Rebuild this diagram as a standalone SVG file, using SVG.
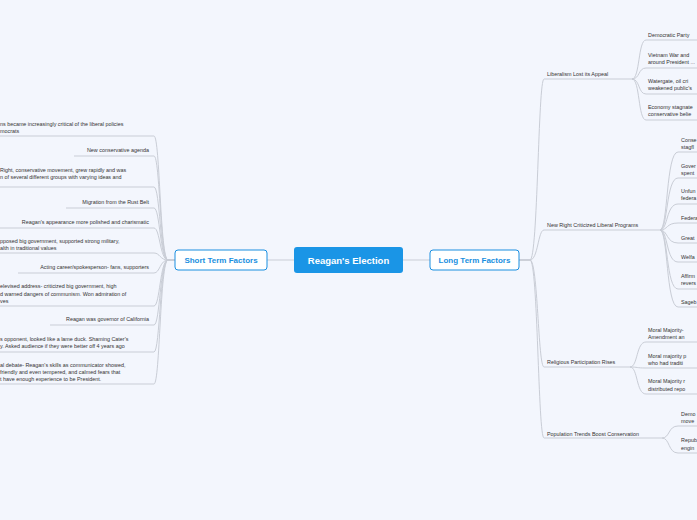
<svg xmlns="http://www.w3.org/2000/svg" width="697" height="520" viewBox="0 0 697 520">
<style>
text{font-family:"Liberation Sans",Arial,sans-serif;font-size:5.4px;fill:#333}
.c path{fill:none;stroke:#c9cdd6;stroke-width:1}
.b rect{fill:#fff;stroke:#1a8fe0;stroke-width:1}
.b text{fill:#1a8fe0;font-weight:bold;font-size:8px;text-anchor:middle}
.e{text-anchor:end}
</style>
<rect width="697" height="520" fill="#f3f6fd"/>
<g class="c">
<path d="M403,260H430M267,260H294"/>
<path d="M175,260H168C160,260 160,136 154,136H0"/>
<path d="M175,260H168C160,260 160,156 154,156H74"/>
<path d="M175,260H168C160,260 160,187 154,187H0"/>
<path d="M175,260H168C160,260 160,208 154,208H66"/>
<path d="M175,260H168C160,260 160,228 154,228H0"/>
<path d="M175,260H168C160,260 160,253 154,253H0"/>
<path d="M175,260H168C160,260 160,273 154,273H18"/>
<path d="M175,260H168C160,260 160,306 154,306H0"/>
<path d="M175,260H168C160,260 160,325 154,325H50"/>
<path d="M175,260H168C160,260 160,352 154,352H0"/>
<path d="M175,260H168C160,260 160,384 154,384H0"/>
<path d="M519,260H530C538,260 538,79 544,79H632"/>
<path d="M519,260H530C538,260 538,230 544,230H660"/>
<path d="M519,260H530C538,260 538,367 544,367H630"/>
<path d="M519,260H530C538,260 538,438 544,438H662"/>
<path d="M632,79C640,79 638,40 646,40H697M632,79C640,79 638,68 646,68H697M632,79C640,79 638,94 646,94H697M632,79C640,79 638,120 646,120H697"/>
<path d="M660,230C668,230 666,152 678,152H697M660,230C668,230 666,178 678,178H697M660,230C668,230 666,204 678,204H697M660,230C668,230 666,223 678,223H697M660,230C668,230 666,243 678,243H697M660,230C668,230 666,262 678,262H697M660,230C668,230 666,289 678,289H697M660,230C668,230 666,307 678,307H697"/>
<path d="M630,367C638,367 636,342 646,342H697M630,367C638,367 636,368 646,368H697M630,367C638,367 636,394 646,394H697"/>
<path d="M662,438C670,438 668,426 678,426H697M662,438C670,438 668,453 678,453H697"/>
</g>
<g id="center"><rect x="294" y="247" width="109" height="26" rx="3" fill="#1a95e6"/><text x="348.5" y="263.5" text-anchor="middle" style="fill:#fff;font-weight:bold;font-size:9.5px">Reagan's Election</text></g>
<g id="short" class="b"><rect x="175" y="250" width="92" height="20" rx="3"/><text x="221" y="263">Short Term Factors</text></g>
<g id="long" class="b"><rect x="430" y="250" width="89" height="20" rx="3"/><text x="474.5" y="263">Long Term Factors</text></g>
<g id="left">
<text x="0" y="126">ns became increasingly critical of the liberal policies</text><text x="0" y="133">mocrats</text>
<text class="e" x="149" y="152">New conservative agenda</text>
<text x="0" y="172">Right, conservative movement, grew rapidly and was</text><text x="0" y="179">n of several different groups with varying ideas and</text>
<text class="e" x="149" y="204">Migration from the Rust Belt</text>
<text class="e" x="149" y="224">Reagan's appearance more polished and charismatic</text>
<text x="0" y="243">pposed big government, supported strong military,</text><text x="0" y="250">alth in traditional values</text>
<text class="e" x="149" y="269">Acting career/spokesperson- fans, supporters</text>
<text x="0" y="288">elevised address- criticized big government, high</text><text x="0" y="296">d warned dangers of communism. Won admiration of</text><text x="0" y="303">ves</text>
<text class="e" x="149" y="321">Reagan was governor of California</text>
<text x="0" y="341">s opponent, looked like a lame duck. Shaming Cater's</text><text x="0" y="348">y. Asked audience if they were better off 4 years ago</text>
<text x="0" y="367">al debate- Reagan's skills as communicator showed,</text><text x="0" y="374">friendly and even tempered, and calmed fears that</text><text x="0" y="381">t have enough experience to be President.</text>
</g>
<g id="right">
<text x="547" y="76">Liberalism Lost its Appeal</text>
<text x="547" y="227">New Right Criticized Liberal Programs</text>
<text x="547" y="364">Religious Participation Rises</text>
<text x="547" y="436">Population Trends Boost Conservation</text>
<text x="648" y="37">Democratic Party</text>
<text x="648" y="57">Vietnam War and</text><text x="648" y="64">around President ...</text>
<text x="648" y="83">Watergate, oil cri</text><text x="648" y="90">weakened public's</text>
<text x="648" y="109">Economy stagnate</text><text x="648" y="116">conservative belie</text>
<text x="681" y="142">Conse</text><text x="681" y="149">stagfl</text>
<text x="681" y="168">Gover</text><text x="681" y="175">spent</text>
<text x="681" y="193">Unfun</text><text x="681" y="200">federa</text>
<text x="681" y="220">Federa</text>
<text x="681" y="240">Great</text>
<text x="681" y="259">Welfa</text>
<text x="681" y="278">Affirm</text><text x="681" y="285">revers</text>
<text x="681" y="304">Sageb</text>
<text x="648" y="332">Moral Majority-</text><text x="648" y="339">Amendment an</text>
<text x="648" y="358">Moral majority p</text><text x="648" y="365">who had traditi</text>
<text x="648" y="383">Moral Majority r</text><text x="648" y="391">distributed repo</text>
<text x="681" y="416">Demo</text><text x="681" y="423">move</text>
<text x="681" y="442">Repub</text><text x="681" y="450">engin</text>
</g>
</svg>
